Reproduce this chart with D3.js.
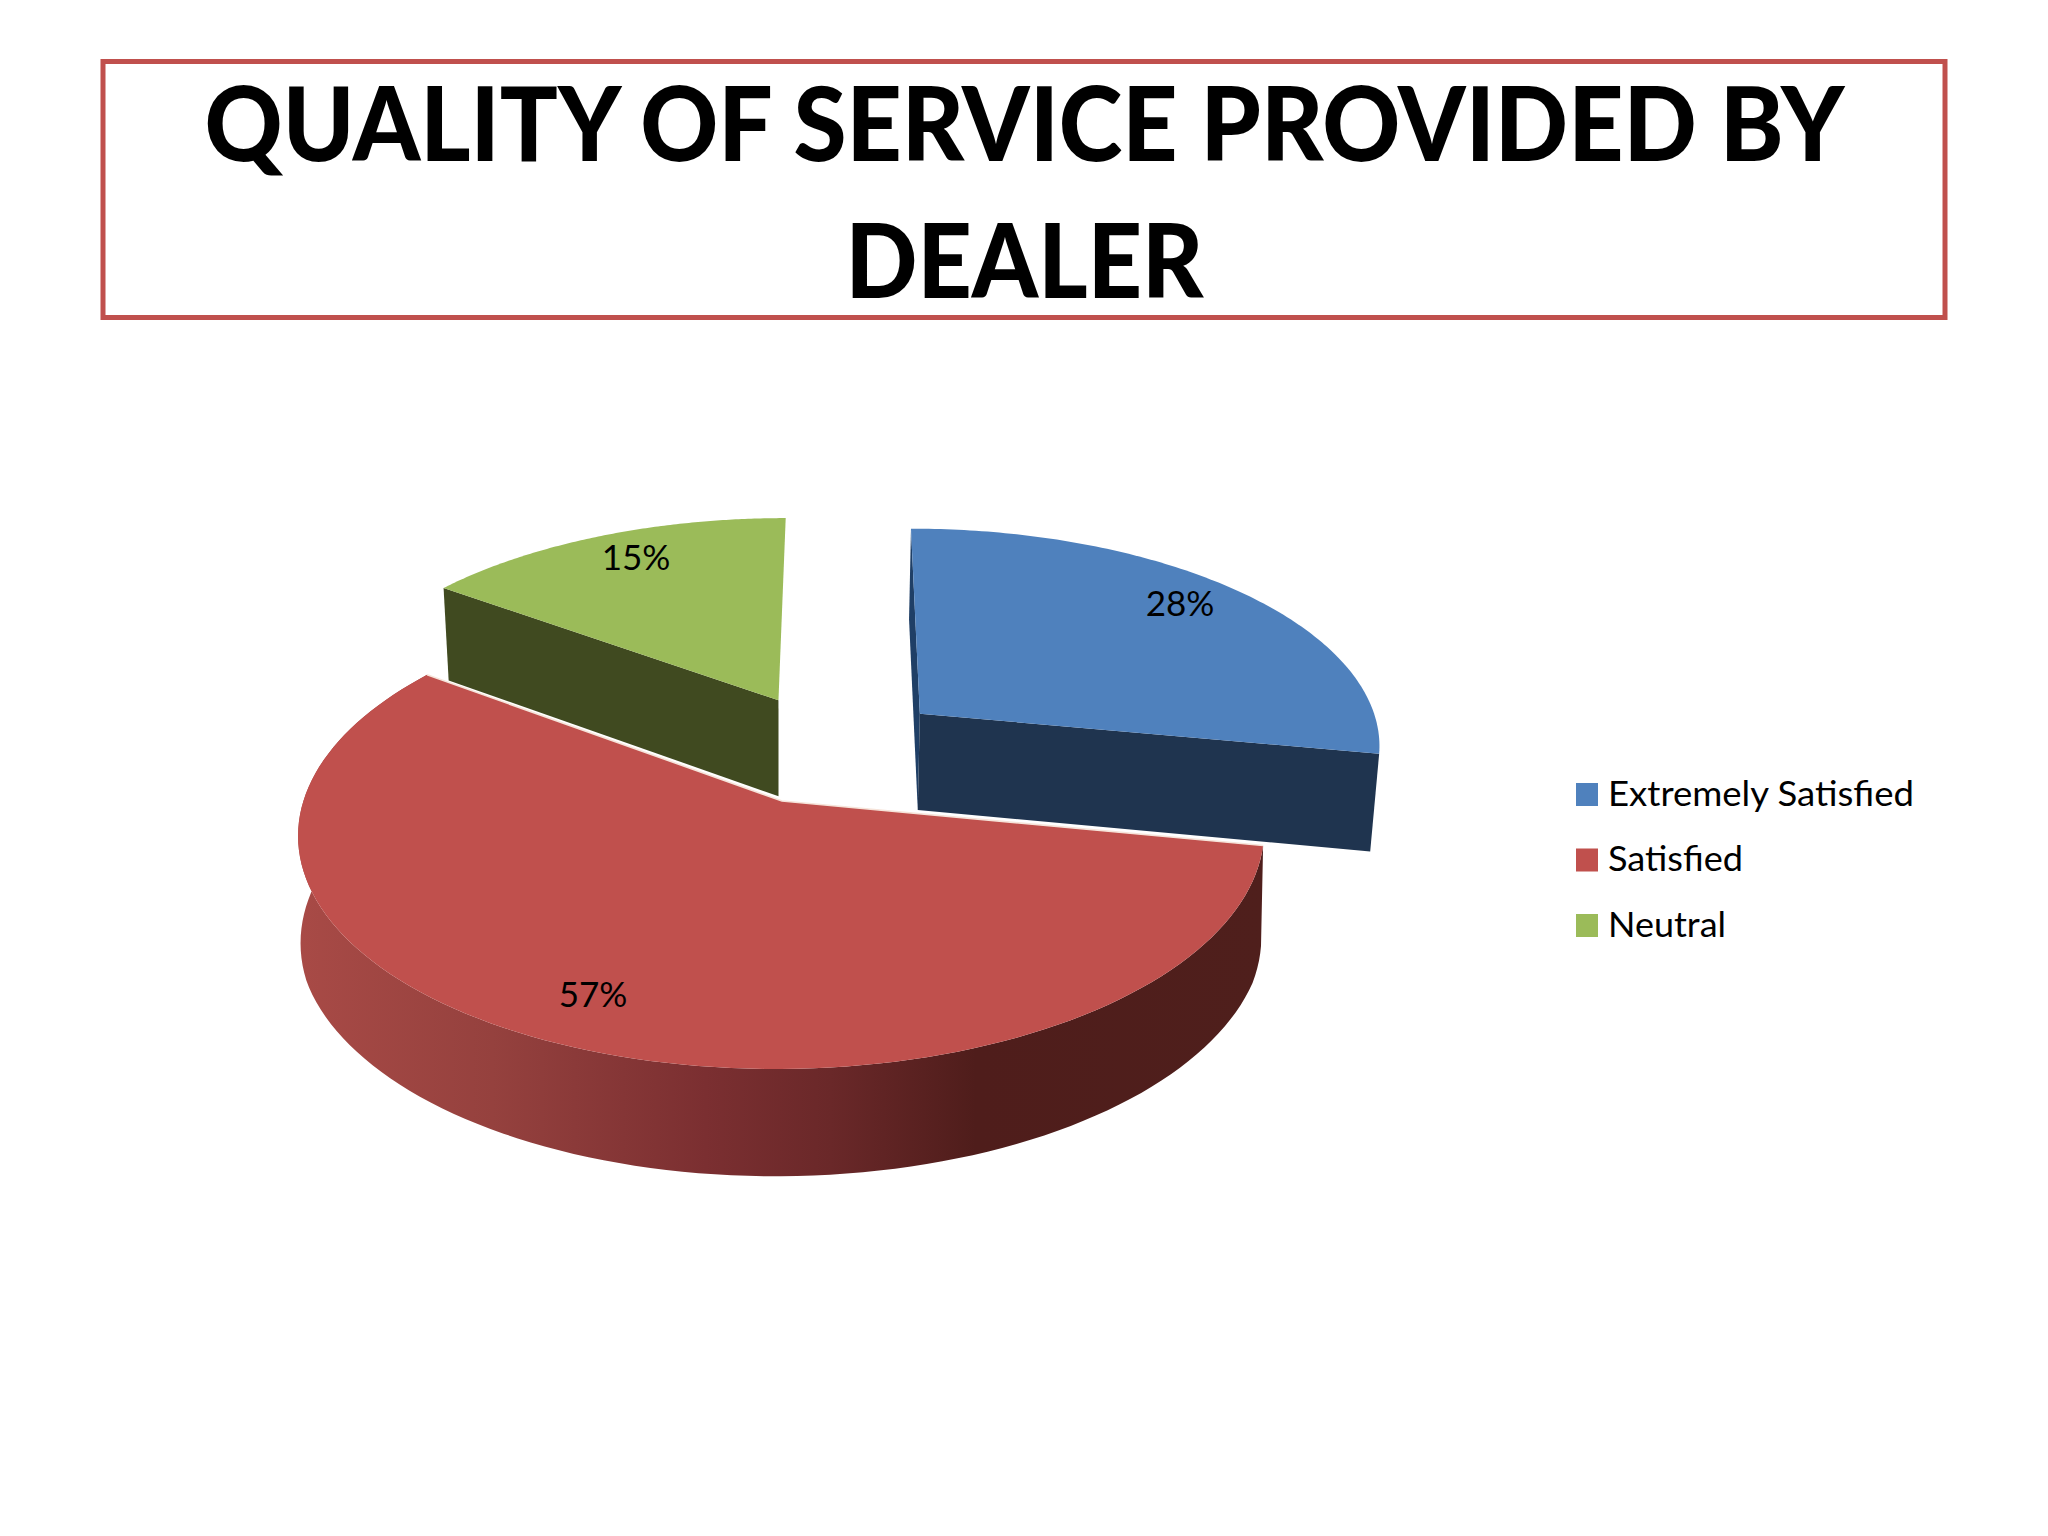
<!DOCTYPE html>
<html>
<head>
<meta charset="utf-8">
<script src="https://cdnjs.cloudflare.com/ajax/libs/d3/7.8.5/d3.min.js"></script>
<style>
html, body { margin: 0; padding: 0; background: #fff; }
svg { display: block; }
text { font-family: Lato, "Open Sans", sans-serif; fill: #000; }
</style>
</head>
<body>
<div id="canvas"></div>
<script>
var titleLines = ['QUALITY OF SERVICE PROVIDED BY', 'DEALER'];
var categories = ['Extremely Satisfied', 'Satisfied', 'Neutral'];
var values = [28, 57, 15];
var valueLabels = ['28%', '57%', '15%'];
var topColors = ['#4f81bd', '#c0504d', '#9bbb59'];
var cutColors = ['#1f344f', '#4f1d1b', '#404a20'];

var width = 2048;
var height = 1536;

// the pie lies on a tilted plane, these map plane units to the page
var originX = 782;
var originY = 801;
var radiusX = 478.6;
var radiusY = 231.8;
var tilt = 0.135;
var lean = 6.5;
var explode = 0.255;

var svg = d3.select('#canvas')
    .append('svg')
    .attr('width', width)
    .attr('height', height);

svg.append('rect')
    .attr('width', width)
    .attr('height', height)
    .style('fill', '#fff');

var sideGradient = svg.append('defs').append('linearGradient')
    .attr('id', 'redSide')
    .attr('gradientUnits', 'userSpaceOnUse')
    .attr('x1', 300).attr('y1', 0)
    .attr('x2', 1265).attr('y2', 0);
[[0, '#a84a46'], [0.2, '#95413e'], [0.42, '#7b2f31'], [0.55, '#6a2829'], [0.7, '#4f1d1b'], [1, '#4f1f1c']].forEach(function (s) {
    sideGradient.append('stop').attr('offset', s[0]).attr('stop-color', s[1]);
});

var slices = d3.pie().sort(null).startAngle(0).endAngle(2 * Math.PI)(values);
var line = d3.line();

function direction(angle) {
    return [Math.sin(angle), -Math.cos(angle)];
}

// every slice moves out from a common centre, the red apex is plane (0,0)
var redMid = direction((slices[1].startAngle + slices[1].endAngle) / 2);
var commonCentre = [-explode * redMid[0], -explode * redMid[1]];

function sliceCentre(d) {
    var mid = direction((d.startAngle + d.endAngle) / 2);
    return [commonCentre[0] + explode * mid[0], commonCentre[1] + explode * mid[1]];
}

function rimPoint(d, angle) {
    var c = sliceCentre(d);
    var dir = direction(angle);
    return [c[0] + dir[0], c[1] + dir[1]];
}

function project(p) {
    var w = 1 - tilt * p[1];
    return [originX + radiusX * p[0] / w - lean * p[1], originY + radiusY * p[1] / w];
}

function projectBottom(p) {
    var w = 1 - tilt * p[1];
    var top = project(p);
    var shrink = Math.max(0.985, Math.min(1, 0.99 + 0.03 * p[1]));
    return [originX + (top[0] - originX) * shrink, top[1] + 46 + 53 / w];
}

function rim(d, from, to) {
    return d3.range(0, 121).map(function (i) {
        return rimPoint(d, from + (to - from) * i / 120);
    });
}

function topPath(d) {
    return line([project(sliceCentre(d))].concat(rim(d, d.startAngle, d.endAngle).map(project))) + 'Z';
}

function wall(points) {
    return line(points.map(project).concat(points.slice().reverse().map(projectBottom))) + 'Z';
}

var pie = svg.append('g');

// neutral, then extremely satisfied, then the big near slice on top
[2, 0, 1].forEach(function (i) {
    var d = slices[i];
    var group = pie.append('g');
    if (i == 0) {
        group.append('path')
            .attr('d', wall([sliceCentre(d), rimPoint(d, d.startAngle)]))
            .style('fill', '#1f3f66');
        group.append('path')
            .attr('d', wall([sliceCentre(d), rimPoint(d, d.endAngle)]))
            .style('fill', cutColors[i]);
    }
    if (i == 2) {
        group.append('path')
            .attr('d', wall([sliceCentre(d), rimPoint(d, d.startAngle)]))
            .style('fill', cutColors[i]);
    }
    if (i == 1) {
        group.append('path')
            .attr('d', wall(rim(d, d.startAngle, d.endAngle)))
            .style('fill', 'url(#redSide)');
    }
    group.append('path')
        .attr('d', topPath(d))
        .style('fill', topColors[i]);
    if (i == 1) {
        group.append('path')
            .attr('d', line([rimPoint(d, d.endAngle), sliceCentre(d), rimPoint(d, d.startAngle)].map(project)))
            .style('fill', 'none')
            .style('stroke', '#f6e4da')
            .style('stroke-width', 1.6);
    }
});

var labelPositions = [[1180, 616], [593, 1007], [636, 570]];
svg.selectAll('.value-label')
    .data(valueLabels)
    .enter()
    .append('text')
    .attr('class', 'value-label')
    .attr('x', function (d, i) { return labelPositions[i][0]; })
    .attr('y', function (d, i) { return labelPositions[i][1]; })
    .attr('text-anchor', 'middle')
    .style('font-size', '35px')
    .text(function (d) { return d; });

// title box
svg.append('rect')
    .attr('x', 103)
    .attr('y', 61.5)
    .attr('width', 1842)
    .attr('height', 256)
    .style('fill', 'none')
    .style('stroke', '#c0504d')
    .style('stroke-width', 5);

var titleBaselines = [161, 298];
var titleWidths = [1640, 358];
svg.selectAll('.title')
    .data(titleLines)
    .enter()
    .append('text')
    .attr('class', 'title')
    .attr('x', 1024.5)
    .attr('y', function (d, i) { return titleBaselines[i]; })
    .attr('text-anchor', 'middle')
    .attr('textLength', function (d, i) { return titleWidths[i]; })
    .attr('lengthAdjust', 'spacingAndGlyphs')
    .style('font-size', '102px')
    .style('font-weight', 900)
    .text(function (d) { return d; });

// legend
var legendWidths = [306, 135, 118];
var legendY = d3.scalePoint().domain(categories).range([794.5, 925.5]);
var legend = svg.selectAll('.legend')
    .data(categories)
    .enter()
    .append('g')
    .attr('class', 'legend')
    .attr('transform', function (d) { return 'translate(0,' + legendY(d) + ')'; });
legend.append('rect')
    .attr('x', 1576)
    .attr('y', -11.5)
    .attr('width', 22)
    .attr('height', 23)
    .style('fill', function (d, i) { return topColors[i]; });
legend.append('text')
    .attr('x', 1608)
    .attr('y', 11)
    .attr('textLength', function (d, i) { return legendWidths[i]; })
    .attr('lengthAdjust', 'spacingAndGlyphs')
    .style('font-size', '35px')
    .text(function (d) { return d; });
</script>
</body>
</html>
